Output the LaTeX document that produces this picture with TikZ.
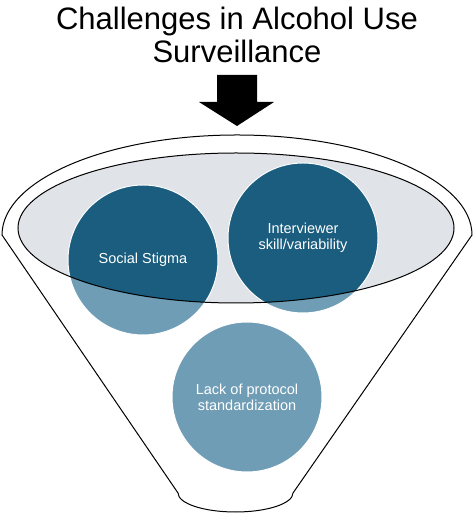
\documentclass[tikz,border=0pt]{standalone}
\usepackage{fontspec}
\setmainfont{Liberation Sans}
\usepackage{tikz}
\definecolor{cupgray}{RGB}{224,227,231}
\definecolor{deepblue}{RGB}{26,93,126}
\definecolor{paleblue}{RGB}{111,157,181}

\begin{document}
\begin{tikzpicture}[x=1pt,y=1pt,line width=1pt,
  bubble/.style={circle,minimum size=150pt,inner sep=0pt,fill=paleblue,draw=white,line width=1pt,text=white,align=center,font=\fontsize{14.5}{16}\selectfont,
    path picture={\fill[deepblue] (cup) ellipse [x radius=218,y radius=75];}},
  heading/.style={align=center,inner sep=0pt,font=\fontsize{31}{33}\selectfont}]
\useasboundingbox (0,0) rectangle (474,513);
\node[heading] (title) at (237,478) {Challenges in Alcohol Use\\Surveillance};
\fill (217,438) -- (257,438) -- (257,411) -- (274,411) -- (237,387) -- (199,411) -- (217,411) -- cycle;
\draw (178,20) -- (2,278) arc[start angle=180,end angle=0,x radius=235,y radius=100]
   -- (293,20) arc[start angle=0,end angle=-180,x radius=57.5,y radius=19] -- cycle;
\coordinate (cup) at (236,285);
\fill[cupgray] (cup) ellipse [x radius=218,y radius=75];
\node[bubble] (stigma) at (143,253) {Social Stigma};
\node[bubble] (skill) at (303,275) {Interviewer\\skill/variability};
\node[bubble] (protocol) at (247,116) {Lack of protocol\\standardization};
\draw (cup) ellipse [x radius=218,y radius=75];
\end{tikzpicture}
\end{document}
